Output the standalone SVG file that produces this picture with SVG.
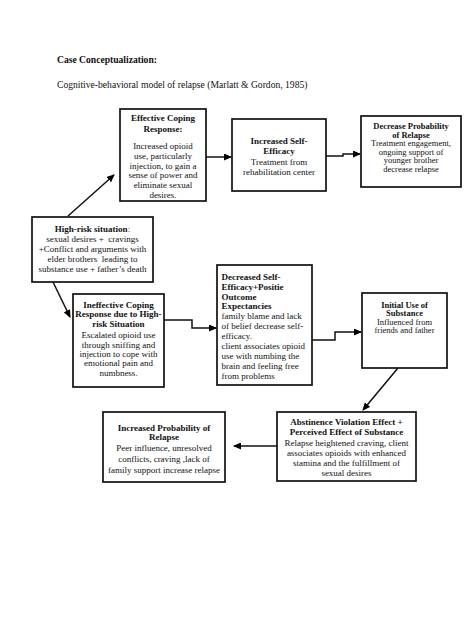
<svg xmlns="http://www.w3.org/2000/svg" width="474" height="632" viewBox="0 0 474 632">
<defs>
<marker id="ah" markerUnits="userSpaceOnUse" markerWidth="8" markerHeight="7" refX="7" refY="3.5" orient="auto">
<path d="M0,0 L8,3.5 L0,7 Z" fill="#000"/>
</marker>
<style>
text{font-family:"Liberation Serif","Times New Roman",serif;font-size:9px;fill:#111}
.c{text-anchor:middle}
.b{font-weight:bold}
.t{font-size:9.6px}
.s{font-size:8.5px}
rect{fill:#fff;stroke:#111;stroke-width:1.7}
.cn{fill:none;stroke:#111;stroke-width:1.5;marker-end:url(#ah)}
</style>
</defs>
<rect x="0" y="0" width="474" height="632" style="stroke:none"/>
<text class="t b" x="57" y="63">Case Conceptualization:</text>
<text class="t" x="57" y="88">Cognitive-behavioral model of relapse (Marlatt &amp; Gordon, 1985)</text>

<g id="connectors">
<line class="cn" x1="206" y1="157" x2="231" y2="157"/>
<polyline class="cn" points="326,156 343,156 343,154 360,154"/>
<line class="cn" x1="68" y1="216" x2="114" y2="175"/>
<line class="cn" x1="53" y1="282" x2="70" y2="317"/>
<polyline class="cn" points="164,320 192,320 192,328 216,328"/>
<polyline class="cn" points="312,340 335,340 335,332 361,332"/>
<line class="cn" x1="398" y1="368" x2="363" y2="410"/>
<line class="cn" x1="277" y1="446" x2="234" y2="446"/>
</g>

<g id="effective-coping">
<rect x="120" y="109" width="86" height="92"/>
<text class="c b" x="163" y="121">Effective Coping</text>
<text class="c b" x="163" y="132">Response:</text>
<text class="c" x="163" y="149">Increased opioid</text>
<text class="c" x="163" y="158.8">use, particularly</text>
<text class="c" x="163" y="168.6">injection, to gain a</text>
<text class="c" x="163" y="178.4">sense of power and</text>
<text class="c" x="163" y="188.2">eliminate sexual</text>
<text class="c" x="163" y="198">desires.</text>
</g>

<g id="increased-self-efficacy">
<rect x="232" y="119" width="94" height="72"/>
<text class="c b" x="279" y="144">Increased Self-</text>
<text class="c b" x="279" y="154">Efficacy</text>
<text class="c" x="279" y="164.5">Treatment from</text>
<text class="c" x="279" y="174.5">rehabilitation center</text>
</g>

<g id="decrease-probability">
<rect x="361" y="116" width="100" height="71"/>
<text class="c b s" x="411" y="129">Decrease Probability</text>
<text class="c b s" x="411" y="137.5">of Relapse</text>
<text class="c s" x="411" y="146">Treatment engagement,</text>
<text class="c s" x="411" y="154.5">ongoing support of</text>
<text class="c s" x="411" y="163">younger brother</text>
<text class="c s" x="411" y="171.5">decrease relapse</text>
</g>

<g id="high-risk">
<rect x="32" y="217" width="121" height="65"/>
<text class="c" x="92.5" y="231.5"><tspan class="b">High-risk situation</tspan>:</text>
<text class="c" x="92.5" y="241.7" xml:space="preserve">sexual desires +  cravings</text>
<text class="c" x="92.5" y="251.9">+Conflict and arguments with</text>
<text class="c" x="92.5" y="262.1" xml:space="preserve">elder brothers  leading to</text>
<text class="c" x="92.5" y="272.3">substance use + father’s death</text>
</g>

<g id="ineffective-coping">
<rect x="73" y="294" width="91" height="93"/>
<text class="c b" x="118.5" y="308">Ineffective Coping</text>
<text class="c b" x="118.5" y="317.3">Response due to High-</text>
<text class="c b" x="118.5" y="326.6">risk Situation</text>
<text class="c" x="118.5" y="338">Escalated opioid use</text>
<text class="c" x="118.5" y="347.5">through sniffing and</text>
<text class="c" x="118.5" y="357">injection to cope with</text>
<text class="c" x="118.5" y="366.3">emotional pain and</text>
<text class="c" x="118.5" y="375.6">numbness.</text>
</g>

<g id="decreased-self-efficacy">
<rect x="217" y="265" width="95" height="120"/>
<text class="b" x="221.5" y="279.7">Decreased Self-</text>
<text class="b" x="221.5" y="289.6">Efficacy+Positie</text>
<text class="b" x="221.5" y="299.5">Outcome</text>
<text class="b" x="221.5" y="309.4">Expectancies</text>
<text x="221.5" y="319.3">family blame and lack</text>
<text x="221.5" y="329.2">of belief decrease self-</text>
<text x="221.5" y="339.1">efficacy.</text>
<text x="221.5" y="349">client associates opioid</text>
<text x="221.5" y="358.9">use with numbing the</text>
<text x="221.5" y="368.8">brain and feeling free</text>
<text x="221.5" y="378.7">from problems</text>
</g>

<g id="initial-use">
<rect x="362" y="293" width="85" height="75"/>
<text class="c b s" x="404.5" y="307.5">Initial Use of</text>
<text class="c b s" x="404.5" y="316">Substance</text>
<text class="c s" x="404.5" y="324.5">Influenced from</text>
<text class="c s" x="404.5" y="333">friends and father</text>
</g>

<g id="abstinence-violation">
<rect x="277" y="412" width="139" height="69"/>
<text class="c b" x="346.5" y="424.7">Abstinence Violation Effect +</text>
<text class="c b" x="346.5" y="434.7">Perceived Effect of Substance</text>
<text class="c" x="346.5" y="445.7">Relapse heightened craving, client</text>
<text class="c" x="346.5" y="455.7">associates opioids with enhanced</text>
<text class="c" x="346.5" y="466.3">stamina and the fulfillment of</text>
<text class="c" x="346.5" y="476.3">sexual desires</text>
</g>

<g id="increased-probability">
<rect x="103" y="412" width="122" height="70"/>
<text class="c b" x="164" y="431.3">Increased Probability of</text>
<text class="c b" x="164" y="440.3">Relapse</text>
<text class="c" x="164" y="451.3">Peer influence, unresolved</text>
<text class="c" x="164" y="462.3">conflicts, craving ,lack of</text>
<text class="c" x="164" y="473">family support increase relapse</text>
</g>
</svg>
